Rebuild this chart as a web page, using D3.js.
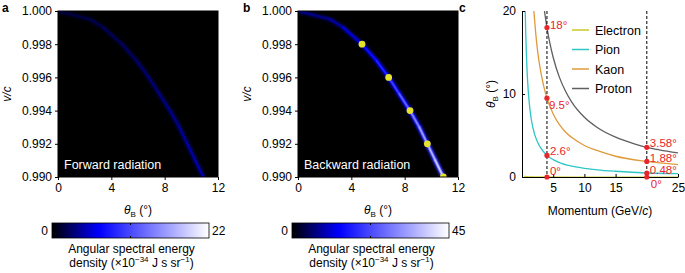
<!DOCTYPE html>
<html>
<head>
<meta charset="utf-8">
<script src="https://cdn.jsdelivr.net/npm/d3@7"></script>
<style>
  body { margin: 0; background: #fff; }
  svg { font-family: "Liberation Sans", Arial, sans-serif; }
  .axis text { font-size: 12px; fill: #000; }
  .axis path, .axis line { stroke: #000; }
</style>
</head>
<body>
<div id="chart"></div>
<script>
// ---- data ----
// radiation curve in panels a and b (v/c vs theta_B)
const curveBeta = [1.000, 0.9995, 0.999, 0.998, 0.997, 0.996, 0.995, 0.994, 0.993, 0.992, 0.991, 0.990];
const curveTheta = [0, 2.4, 3.4, 4.8, 5.9, 6.8, 7.6, 8.4, 9.1, 9.7, 10.3, 10.9];
const forwardIntensity = [1.8, 2, 2.2, 2.5, 2.8, 3.1, 3.4, 3.7, 4, 4.3, 4.6, 4.9];
const backwardIntensity = [7, 8, 10, 14, 17, 20, 24, 28, 32, 35, 38, 41];
const forwardMax = 22;
const backwardMax = 45;

// yellow markers in panel b
const markerBeta = [0.998, 0.996, 0.994, 0.992, 0.990];
const markerTheta = [4.8, 6.8, 8.4, 9.7, 10.9];

const betaTicks = [0.990, 0.992, 0.994, 0.996, 0.998, 1.000];
const thetaTicks = [0, 4, 8, 12];

// panel c: theta_B vs momentum
const particles = ["Electron", "Pion", "Kaon", "Proton"];
const particleColors = ["#c9c92a", "#2fc6c6", "#e09a3a", "#5f5f5f"];
const electronP = [0.3, 1, 2, 4, 6, 8, 10, 15, 20, 25];
const electronTheta = [0.1, 0.04, 0.02, 0.01, 0.01, 0, 0, 0, 0, 0];
const pionP = [0.52, 0.6, 0.7, 0.8, 1, 1.25, 1.5, 2, 2.5, 3, 4, 5, 6, 8, 10, 12, 15, 20, 25];
const pionTheta = [20, 17.3, 14.9, 13, 10.4, 8.3, 6.9, 5.2, 4.2, 3.5, 2.6, 2.1, 1.73, 1.3, 1.04, 0.87, 0.69, 0.48, 0.41];
const kaonP = [1.9, 2.2, 2.5, 3, 3.5, 4, 5, 6, 7, 8, 10, 12, 15, 20, 25];
const kaonTheta = [20, 17.3, 15.2, 12.7, 10.9, 9.5, 7.6, 6.3, 5.4, 4.75, 3.8, 3.2, 2.5, 1.88, 1.5];
const protonP = [3.6, 4, 4.5, 5, 6, 7, 8, 10, 12, 15, 18, 20, 22, 25];
const protonTheta = [20, 18, 16, 14.4, 12, 10.3, 9, 7.2, 6, 4.8, 4, 3.58, 3.27, 2.9];

const markP = [4, 4, 4, 4, 20, 20, 20, 20];
const markTheta = [18, 9.5, 2.6, 0, 3.58, 1.88, 0.48, 0];
const markLabels = ["18°", "9.5°", "2.6°", "0°", "3.58°", "1.88°", "0.48°", "0°"];
const dashedP = [4, 20];
const momentumTicks = [5, 10, 15, 25];
const angleTicks = [0, 10, 20];

// ---- setup ----
const svg = d3.select("#chart").append("svg")
  .attr("width", 685).attr("height", 273);
const defs = svg.append("defs");

// black -> blue -> white colour map
const cmap = d3.scaleLinear()
  .domain([0, 0.3, 1])
  .range(["#000000", "#0000ff", "#ffffff"])
  .interpolate(d3.interpolateRgb);

defs.append("filter").attr("id", "glow")
  .attr("x", "-50%").attr("y", "-50%").attr("width", "200%").attr("height", "200%")
  .append("feGaussianBlur").attr("stdDeviation", 1.2);

function thetaLabel(sel) {
  sel.append("tspan").attr("font-style", "italic").text("θ");
  sel.append("tspan").attr("font-size", "8px").attr("dy", 3).text("B");
  sel.append("tspan").attr("dy", -3).text(" (°)");
}

function heatPanel(id, x0, letter, intensity, vmax, label, withMarkers) {
  const w = 160, h = 166, top = 11;
  const g = svg.append("g").attr("transform", `translate(${x0},${top})`);
  const x = d3.scaleLinear().domain([0, 12]).range([0, w]);
  const y = d3.scaleLinear().domain([0.990, 1.000]).range([h, 0]);

  defs.append("clipPath").attr("id", "clip" + id)
    .append("rect").attr("width", w).attr("height", h);

  g.append("rect").attr("width", w).attr("height", h).attr("fill", "#000");

  const pts = curveBeta.map((b, i) => [x(curveTheta[i]), y(b), intensity[i] / vmax]);
  const line = d3.line().curve(d3.curveCatmullRom);
  const plot = g.append("g").attr("clip-path", `url(#clip${id})`);

  // draw the curve in short segments so the colour follows intensity
  const segs = d3.pairs(pts);
  const layers = withMarkers
    ? [{ w: 5, f: 0.5, blur: true }, { w: 3, f: 0.75, blur: false }, { w: 1.2, f: 1.0, blur: false }]
    : [{ w: 5, f: 0.6, blur: true }, { w: 1.6, f: 1.0, blur: false }];
  layers.forEach(L => {
    plot.append("g")
      .attr("filter", L.blur ? "url(#glow)" : null)
      .selectAll("path").data(segs).enter().append("path")
      .attr("d", d => line([d[0], d[1]]))
      .attr("fill", "none")
      .attr("stroke-linecap", "round")
      .attr("stroke-width", L.w)
      .attr("stroke", d => cmap(((d[0][2] + d[1][2]) / 2) * L.f));
  });

  if (withMarkers) {
    plot.selectAll("circle").data(markerBeta).enter().append("circle")
      .attr("cx", (d, i) => x(markerTheta[i]))
      .attr("cy", d => y(d))
      .attr("r", 3.4)
      .attr("fill", "#e6e22a");
  }

  g.append("text").attr("x", 6).attr("y", h - 8)
    .attr("fill", "#fff").attr("font-size", "12.5px").text(label);

  g.append("g").attr("class", "axis").attr("transform", `translate(0,${h})`)
    .call(d3.axisBottom(x).tickValues(thetaTicks).tickSize(3).tickSizeOuter(0))
    .call(a => a.select(".domain").remove());
  g.append("g").attr("class", "axis")
    .call(d3.axisLeft(y).tickValues(betaTicks).tickFormat(d3.format(".3f")).tickSize(3).tickSizeOuter(0))
    .call(a => a.select(".domain").remove());
  g.append("rect").attr("width", w).attr("height", h)
    .attr("fill", "none").attr("stroke", "#000").attr("stroke-width", 1);

  g.append("text").attr("transform", `translate(-47,${h / 2}) rotate(-90)`)
    .attr("text-anchor", "middle").attr("font-size", "12px")
    .attr("font-style", "italic").text("v/c");
  g.append("text").attr("x", w / 2).attr("y", 203).attr("text-anchor", "middle")
    .attr("font-size", "12px").call(thetaLabel);

  svg.append("text").attr("x", x0 - (letter === "a" ? 56 : 55)).attr("y", 12)
    .attr("font-weight", "bold").attr("font-size", "12px").text(letter);

  // colour bar
  const cb = svg.append("g").attr("transform", `translate(${x0 - 6},223)`);
  const cbw = 157, cbh = 15;
  const grad = defs.append("linearGradient").attr("id", "grad" + id);
  d3.range(0, 1.0001, 0.05).forEach(t => {
    grad.append("stop").attr("offset", t).attr("stop-color", cmap(t));
  });
  cb.append("rect").attr("width", cbw).attr("height", cbh)
    .attr("fill", `url(#grad${id})`).attr("stroke", "#000").attr("stroke-width", 0.8);
  cb.append("line").attr("x1", cbw / 2).attr("x2", cbw / 2).attr("y1", 0).attr("y2", 2).attr("stroke", "#000");
  cb.append("line").attr("x1", cbw / 2).attr("x2", cbw / 2).attr("y1", cbh - 2).attr("y2", cbh).attr("stroke", "#000");
  cb.append("text").attr("x", -4).attr("y", 12).attr("text-anchor", "end")
    .attr("font-size", "12px").text("0");
  cb.append("text").attr("x", cbw + 3).attr("y", 12)
    .attr("font-size", "12px").text(vmax);
  cb.append("text").attr("x", cbw / 2 + 1).attr("y", 30).attr("text-anchor", "middle")
    .attr("font-size", "12px").text("Angular spectral energy");
  const t2 = cb.append("text").attr("x", cbw / 2 + 1).attr("y", 44).attr("text-anchor", "middle")
    .attr("font-size", "12px");
  t2.append("tspan").text("density (×10");
  t2.append("tspan").attr("font-size", "8px").attr("dy", -5).text("−34");
  t2.append("tspan").attr("dy", 5).text(" J s sr");
  t2.append("tspan").attr("font-size", "8px").attr("dy", -5).text("−1");
  t2.append("tspan").attr("dy", 5).text(")");
}

heatPanel("a", 58, "a", forwardIntensity, forwardMax, "Forward radiation", false);
heatPanel("b", 298, "b", backwardIntensity, backwardMax, "Backward radiation", true);

// ---- panel c ----
(function () {
  const x0 = 522, top = 11, w = 156, h = 166;
  const g = svg.append("g").attr("transform", `translate(${x0},${top})`);
  const x = d3.scaleLinear().domain([0, 25]).range([0, w]);
  const y = d3.scaleLinear().domain([0, 20]).range([h, 0]);

  defs.append("clipPath").attr("id", "clipc")
    .append("rect").attr("width", w).attr("height", h);
  const plot = g.append("g").attr("clip-path", "url(#clipc)");

  const series = [
    [electronP, electronTheta],
    [pionP, pionTheta],
    [kaonP, kaonTheta],
    [protonP, protonTheta]
  ];
  const line = d3.line().curve(d3.curveMonotoneX);
  series.forEach((s, i) => {
    plot.append("path")
      .attr("d", line(s[0].map((p, j) => [x(p), y(s[1][j])])))
      .attr("fill", "none").attr("stroke", particleColors[i]).attr("stroke-width", i === 0 ? 1 : 1.3);
  });

  dashedP.forEach(p => {
    g.append("line").attr("x1", x(p)).attr("x2", x(p)).attr("y1", y(20)).attr("y2", y(0))
      .attr("stroke", "#000").attr("stroke-width", 1).attr("stroke-dasharray", "3,2");
  });

  g.append("g").attr("class", "axis").attr("transform", `translate(0,${h})`)
    .call(d3.axisBottom(x).tickValues(momentumTicks).tickSize(-3).tickSizeOuter(0).tickPadding(6));
  g.append("g").attr("class", "axis")
    .call(d3.axisLeft(y).tickValues(angleTicks).tickSize(-3).tickSizeOuter(0).tickPadding(6));

  // red markers and labels
  const lblOffset = [[3, 1], [2, 11], [3, 0], [3, -2], [3, 0], [3, 1], [3, 1], [4, 11]];
  markP.forEach((p, i) => {
    g.append("circle").attr("cx", x(p)).attr("cy", y(markTheta[i])).attr("r", 2.6).attr("fill", "#e8262a");
    g.append("text").attr("x", x(p) + lblOffset[i][0]).attr("y", y(markTheta[i]) + lblOffset[i][1])
      .attr("fill", "#e8262a").attr("font-size", "11.5px").text(markLabels[i]);
  });

  // legend
  const lg = g.append("g").attr("transform", "translate(50,19)");
  particles.forEach((name, i) => {
    lg.append("line").attr("x1", 0).attr("x2", 17).attr("y1", i * 19.5).attr("y2", i * 19.5)
      .attr("stroke", particleColors[i]).attr("stroke-width", 1.5);
    lg.append("text").attr("x", 23).attr("y", i * 19.5 + 4.5).attr("font-size", "12.5px").text(name);
  });

  g.append("text").attr("transform", `translate(-27,${h / 2}) rotate(-90)`)
    .attr("text-anchor", "middle").attr("font-size", "12px").call(thetaLabel);
  const xl = g.append("text").attr("x", 78).attr("y", 204).attr("text-anchor", "middle").attr("font-size", "12px");
  xl.append("tspan").text("Momentum (GeV/");
  xl.append("tspan").attr("font-style", "italic").text("c");
  xl.append("tspan").text(")");

  svg.append("text").attr("x", 459).attr("y", 12)
    .attr("font-weight", "bold").attr("font-size", "12px").text("c");
})();
</script>
</body>
</html>
